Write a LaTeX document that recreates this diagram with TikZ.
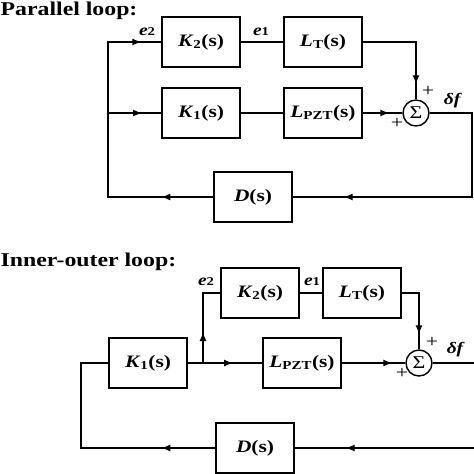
\documentclass[tikz,border=0pt]{standalone}
\usepackage{fontspec}
\setmainfont{Liberation Serif}[FakeStretch=1.22]
\usetikzlibrary{arrows.meta,decorations.markings,positioning}

\begin{document}
\begin{tikzpicture}[
  x=1pt,y=-1pt,
  line width=1.3pt,
  blk/.style={draw,line width=1.4pt,minimum width=78pt,minimum height=50pt,inner sep=0pt,
    font=\fontsize{17.5}{20}\selectfont\bfseries},
  sumc/.style={circle,draw,line width=1.4pt,minimum size=26pt,inner sep=0pt,
    font=\fontsize{18}{20}\selectfont},
  lbl/.style={inner sep=0pt,font=\fontsize{16}{18}\selectfont\bfseries\itshape},
  sgn/.style={inner sep=0pt,font=\fontsize{18}{20}\selectfont},
  title/.style={anchor=north west,inner sep=0pt,font=\fontsize{19.5}{22}\selectfont\bfseries},
  flow/.style={postaction={decorate,decoration={markings,
    mark=at position #1 with {\arrow{Latex[length=9pt,width=7pt]}}}}},
]
\useasboundingbox (0,0) rectangle (474,474);

% parallel loop
\node[title] (t1) at (0,1) {Parallel loop:};
\node[blk] (k2a) at (201,42) {\textit{K}\textsubscript{2}(s)};
\node[blk] (lta) at (323,42) {\textit{L}\textsubscript{T}(s)};
\node[blk] (k1a) at (201,113) {\textit{K}\textsubscript{1}(s)};
\node[blk] (lpa) at (323,113) {\textit{L}\textsubscript{PZT}(s)};
\node[sumc] (sa) at (416,113) {Σ};
\node[blk] (da) at (253,197) {\textit{D}(s)};

\coordinate (la) at (108,42);
\coordinate (ma) at (108,113);
\coordinate (ba) at (108,197);
\coordinate (ra) at (472,113);
\coordinate (rba) at (472,197);

\draw[line join=miter,flow=52pt,flow=-20pt] (da.west) -- (ba) -- (la) -- (k2a.west);
\draw[flow=34pt] (ma) -- (k1a.west);
\draw (k2a) -- (lta);
\draw (k1a) -- (lpa);
\draw[flow=-15pt] (lta.east) -| (sa.north);
\draw[flow=-13pt] (lpa.east) -- (sa.west);
\draw[line join=miter,flow=-51pt] (sa.east) -- (ra) -- (rba) -- (da.east);

\node[lbl] (e2a) at (147,32) {e{\upshape\fontsize{12}{13}\selectfont 2}};
\node[lbl] (e1a) at (261,32) {e{\upshape\fontsize{12}{13}\selectfont 1}};
\node[lbl] (dfa) at (452,101) {δf};
\node[sgn] (pa1) at (428,91) {+};
\node[sgn] (pa2) at (397,123) {+};

% inner-outer loop
\node[title] (t2) at (0,252) {Inner-outer loop:};
\node[blk] (k2b) at (260,293) {\textit{K}\textsubscript{2}(s)};
\node[blk] (ltb) at (362,293) {\textit{L}\textsubscript{T}(s)};
\node[blk] (k1b) at (148,363) {\textit{K}\textsubscript{1}(s)};
\node[blk] (lpb) at (302,363) {\textit{L}\textsubscript{PZT}(s)};
\node[sumc] (sb) at (419,363) {Σ};
\node[blk] (db) at (255,448) {\textit{D}(s)};

\coordinate (lb1) at (81,363);
\coordinate (lb2) at (81,448);
\coordinate (jb) at (203,363);
\coordinate (jt) at (203,293);
\coordinate (rb1) at (477,363);
\coordinate (rb2) at (477,448);

\draw[line join=miter,flow=54pt] (db.west) -- (lb2) -- (lb1) -- (k1b.west);
\draw (k1b.east) -- (jb);
\draw[flow=30pt] (jb) -- (lpb.west);
\draw[line join=miter,flow=31pt] (jb) -- (jt) -- (k2b.west);
\draw (k2b) -- (ltb);
\draw[flow=-15pt] (ltb.east) -| (sb.north);
\draw[flow=-13pt] (lpb.east) -- (sb.west);
\draw[line join=miter,flow=-51pt] (sb.east) -- (rb1) -- (rb2) -- (db.east);

\node[lbl] (e2b) at (206,282) {e{\upshape\fontsize{12}{13}\selectfont 2}};
\node[lbl] (e1b) at (312,282) {e{\upshape\fontsize{12}{13}\selectfont 1}};
\node[lbl] (dfb) at (455,350) {δf};
\node[sgn] (pb1) at (432,342) {+};
\node[sgn] (pb2) at (402,373) {+};

\end{tikzpicture}
\end{document}
